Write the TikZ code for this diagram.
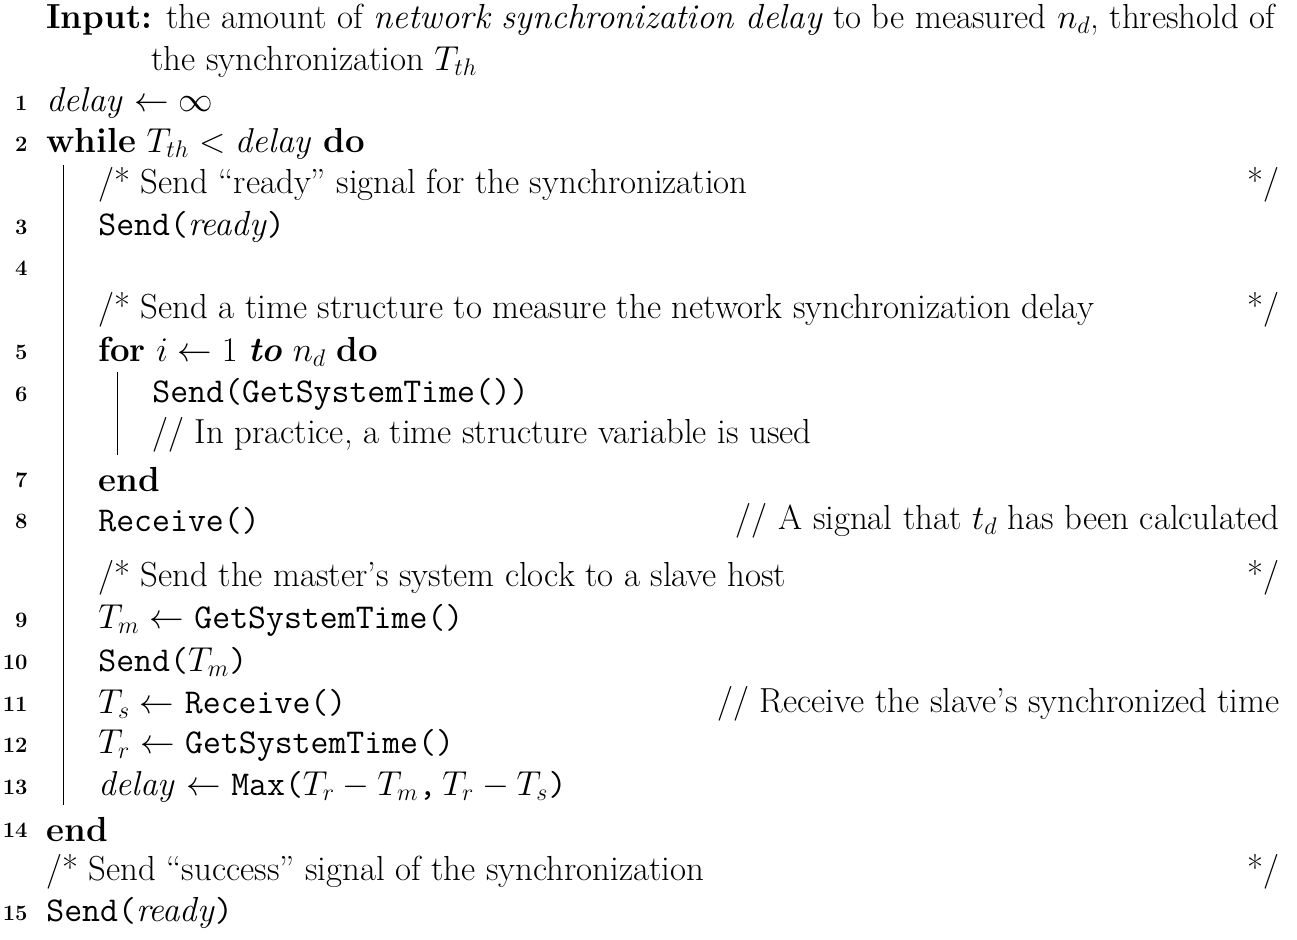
\documentclass[tikz,border=0pt]{standalone}
\begin{document}
\begin{tikzpicture}[x=0.5pt,y=-0.5pt,
  t/.style={anchor=west,inner sep=0pt,font=\fontsize{17.4}{21}\selectfont},
  r/.style={anchor=east,inner sep=0pt,font=\fontsize{17.4}{21}\selectfont},
  ln/.style={anchor=east,inner sep=0pt,font=\fontsize{11}{13}\selectfont\bfseries},
  bar/.style={line width=0.4pt}]
\useasboundingbox (0,0) rectangle (1297,939);
\node[t] (in1) at (46,20) {\textbf{Input:} the amount of \textit{network synchronization delay} to be measured $n_d$, threshold of};
\node[t] (in2) at (151,62) {the synchronization $T_{th}$};
\node[ln] (l1) at (28,103) {1}; \node[t] (s1) at (46,103) {$\mathit{delay} \leftarrow \infty$};
\node[ln] (l2) at (28,144) {2}; \node[t] (s2) at (46,144) {\textbf{while} $T_{th} < \mathit{delay}$ \textbf{do}};
\node[t] (c1) at (98,185) {/* Send ``ready'' signal for the synchronization}; \node[r] (e1) at (1280,185) {*/};
\node[ln] (l3) at (28,227) {3}; \node[t] (s3) at (98,227) {\texttt{Send(}\textit{ready}\texttt{)}};
\node[ln] (l4) at (28,268) {4};
\node[t] (c2) at (98,310) {/* Send a time structure to measure the network synchronization delay}; \node[r] (e2) at (1280,310) {*/};
\node[ln] (l5) at (28,352) {5}; \node[t] (s5) at (98,352) {\textbf{for} $i \leftarrow 1$ \textbf{\textit{to}} $n_d$ \textbf{do}};
\node[ln] (l6) at (28,394) {6}; \node[t] (s6) at (152,394) {\texttt{Send(GetSystemTime())}};
\node[t] (c3) at (152,435) {// In practice, a time structure variable is used};
\node[ln] (l7) at (28,480) {7}; \node[t] (s7) at (98,480) {\textbf{end}};
\node[ln] (l8) at (28,521) {8}; \node[t] (s8) at (98,521) {\texttt{Receive()}};
\node[r] (c4) at (1280,521) {// A signal that $t_d$ has been calculated};
\node[t] (c5) at (98,578) {/* Send the master's system clock to a slave host}; \node[r] (e5) at (1280,578) {*/};
\node[ln] (l9) at (28,620) {9}; \node[t] (s9) at (98,620) {$T_m \leftarrow$ \texttt{GetSystemTime()}};
\node[ln] (l10) at (28,662) {10}; \node[t] (s10) at (98,662) {\texttt{Send(}$T_m$\texttt{)}};
\node[ln] (l11) at (28,704) {11}; \node[t] (s11) at (98,704) {$T_s \leftarrow$ \texttt{Receive()}};
\node[r] (c6) at (1280,704) {// Receive the slave's synchronized time};
\node[ln] (l12) at (28,745) {12}; \node[t] (s12) at (98,745) {$T_r \leftarrow$ \texttt{GetSystemTime()}};
\node[ln] (l13) at (28,787) {13}; \node[t] (s13) at (98,787) {$\mathit{delay} \leftarrow$ \texttt{Max(}$T_r - T_m$\texttt{,}$\,T_r - T_s$\texttt{)}};
\node[ln] (l14) at (28,830) {14}; \node[t] (s14) at (46,830) {\textbf{end}};
\node[t] (c7) at (46,872) {/* Send ``success'' signal of the synchronization}; \node[r] (e7) at (1280,872) {*/};
\node[ln] (l15) at (28,913) {15}; \node[t] (s15) at (46,913) {\texttt{Send(}\textit{ready}\texttt{)}};
\coordinate (a1) at (63,165); \coordinate (a2) at (63,805);
\draw[bar] (a1) -- (a2);
\coordinate (b1) at (117,372); \coordinate (b2) at (117,455);
\draw[bar] (b1) -- (b2);
\end{tikzpicture}
\end{document}
